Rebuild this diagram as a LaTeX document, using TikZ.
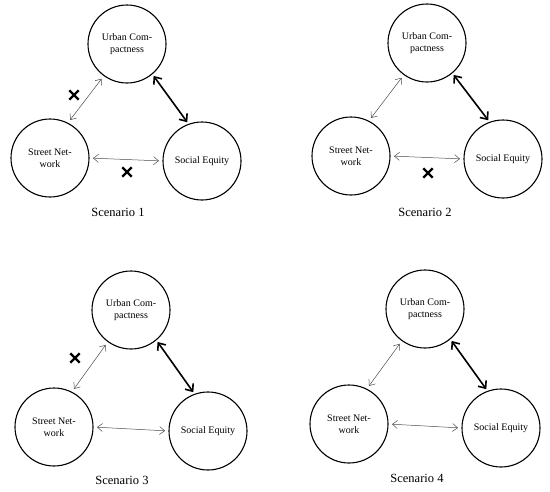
\documentclass[tikz,border=0pt]{standalone}
\usepackage{fontspec}
\setmainfont{Liberation Serif}
\usetikzlibrary{arrows.meta,shapes.misc}

\begin{document}
\begin{tikzpicture}[x=1pt,y=-1pt,
    factor/.style={circle,draw,line width=1.1pt,minimum size=78pt,inner sep=0pt,align=center,font=\fontsize{10}{12.5}\selectfont},
    weak/.style={draw=black!70,line width=0.5pt,{Straight Barb[length=5pt,width=8pt]}-{Straight Barb[length=5pt,width=8pt]},shorten >=3.5pt,shorten <=3.5pt},
    strong/.style={line width=1.6pt,{Straight Barb[length=6pt,width=10pt]}-{Straight Barb[length=6pt,width=10pt]},shorten >=2pt,shorten <=2pt},
    nolink/.style={cross out,draw,line width=2.4pt,minimum size=7pt,inner sep=0pt},
    caption/.style={font=\fontsize{12.5}{15}\selectfont}]
    \useasboundingbox (0,0) rectangle (550,491);

    % Scenario 1
    \node[factor] (u1) at (127,44) {Urban Com-\\pactness};
    \node[factor] (s1) at (50,158) {Street Net-\\work};
    \node[factor] (e1) at (202,161) {Social Equity};
    \node[caption] (c1) at (118,212) {Scenario 1};
    \draw[weak] (s1.63) -- (u1.234);
    \draw[weak] (s1.0) -- (e1.180);
    \draw[strong] (u1.-50) -- (e1.110);
    \node[nolink] (x1a) at (74,95) {};
    \node[nolink] (x1b) at (127,172) {};

    % Scenario 2
    \node[factor] (u2) at (427,43) {Urban Com-\\pactness};
    \node[factor] (s2) at (351,156) {Street Net-\\work};
    \node[factor] (e2) at (503,159) {Social Equity};
    \node[caption] (c2) at (425,212) {Scenario 2};
    \draw[weak] (s2.63) -- (u2.234);
    \draw[weak] (s2.0) -- (e2.180);
    \draw[strong] (u2.-50) -- (e2.110);
    \node[nolink] (x2b) at (428,173) {};

    % Scenario 3
    \node[factor] (u3) at (131,310) {Urban Com-\\pactness};
    \node[factor] (s3) at (54,427) {Street Net-\\work};
    \node[factor] (e3) at (208,431) {Social Equity};
    \node[caption] (c3) at (122,480) {Scenario 3};
    \draw[weak] (s3.63) -- (u3.234);
    \draw[weak] (s3.0) -- (e3.180);
    \draw[strong] (u3.-50) -- (e3.110);
    \node[nolink] (x3a) at (75,358) {};

    % Scenario 4
    \node[factor] (u4) at (425,309) {Urban Com-\\pactness};
    \node[factor] (s4) at (349,424) {Street Net-\\work};
    \node[factor] (e4) at (501,428) {Social Equity};
    \node[caption] (c4) at (417,478) {Scenario 4};
    \draw[weak] (s4.63) -- (u4.234);
    \draw[weak] (s4.0) -- (e4.180);
    \draw[strong] (u4.-50) -- (e4.110);
\end{tikzpicture}
\end{document}
